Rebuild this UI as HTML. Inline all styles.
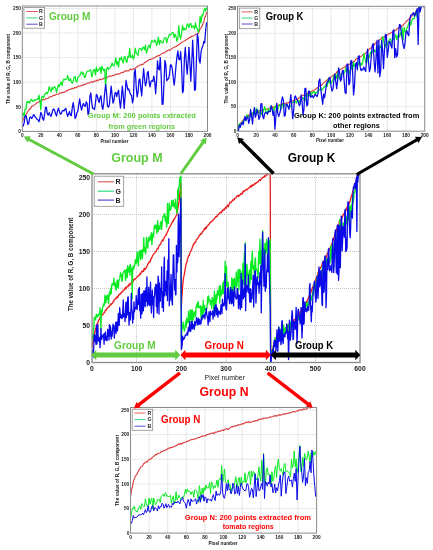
<!DOCTYPE html>
<html><head><meta charset="utf-8"><style>
html,body{margin:0;padding:0;background:#fff;}
svg{display:block;}
.t{font-family:'Liberation Sans', Arial, sans-serif;fill:#1a1a1a;font-weight:bold;}
.b{font-family:'Liberation Sans', Arial, sans-serif;}
.grid{stroke:#e2e2e2;stroke-width:0.8;}
.gridd{stroke:#c4c4c4;stroke-width:1;stroke-dasharray:1 1;}
</style></head><body>
<svg width="433" height="550" viewBox="0 0 433 550">
<rect width="433" height="550" fill="#fff"/>
<clipPath id="clipTL"><rect x="22.3" y="6.0" width="185.2" height="125.4"/></clipPath>
<rect x="22.3" y="6.0" width="185.2" height="125.4" fill="#fff"/>
<line x1="40.82" y1="6.0" x2="40.82" y2="131.4" class="grid"/>
<line x1="59.34" y1="6.0" x2="59.34" y2="131.4" class="grid"/>
<line x1="77.86" y1="6.0" x2="77.86" y2="131.4" class="grid"/>
<line x1="96.38" y1="6.0" x2="96.38" y2="131.4" class="grid"/>
<line x1="114.90" y1="6.0" x2="114.90" y2="131.4" class="grid"/>
<line x1="133.42" y1="6.0" x2="133.42" y2="131.4" class="grid"/>
<line x1="151.94" y1="6.0" x2="151.94" y2="131.4" class="grid"/>
<line x1="170.46" y1="6.0" x2="170.46" y2="131.4" class="grid"/>
<line x1="188.98" y1="6.0" x2="188.98" y2="131.4" class="grid"/>
<line x1="22.3" y1="106.81" x2="207.5" y2="106.81" class="grid"/>
<line x1="22.3" y1="82.22" x2="207.5" y2="82.22" class="grid"/>
<line x1="22.3" y1="57.64" x2="207.5" y2="57.64" class="grid"/>
<line x1="22.3" y1="33.05" x2="207.5" y2="33.05" class="grid"/>
<line x1="22.3" y1="8.46" x2="207.5" y2="8.46" class="grid"/>
<text x="22.30" y="136.9" font-size="4.8" text-anchor="middle" class="t">0</text>
<text x="40.82" y="136.9" font-size="4.8" text-anchor="middle" class="t">20</text>
<text x="59.34" y="136.9" font-size="4.8" text-anchor="middle" class="t">40</text>
<text x="77.86" y="136.9" font-size="4.8" text-anchor="middle" class="t">60</text>
<text x="96.38" y="136.9" font-size="4.8" text-anchor="middle" class="t">80</text>
<text x="114.90" y="136.9" font-size="4.8" text-anchor="middle" class="t">100</text>
<text x="133.42" y="136.9" font-size="4.8" text-anchor="middle" class="t">120</text>
<text x="151.94" y="136.9" font-size="4.8" text-anchor="middle" class="t">140</text>
<text x="170.46" y="136.9" font-size="4.8" text-anchor="middle" class="t">160</text>
<text x="188.98" y="136.9" font-size="4.8" text-anchor="middle" class="t">180</text>
<text x="207.50" y="136.9" font-size="4.8" text-anchor="middle" class="t">200</text>
<text x="21.0" y="133.13" font-size="4.8" text-anchor="end" class="t">0</text>
<text x="21.0" y="108.54" font-size="4.8" text-anchor="end" class="t">50</text>
<text x="21.0" y="83.95" font-size="4.8" text-anchor="end" class="t">100</text>
<text x="21.0" y="59.36" font-size="4.8" text-anchor="end" class="t">150</text>
<text x="21.0" y="34.78" font-size="4.8" text-anchor="end" class="t">200</text>
<text x="21.0" y="10.19" font-size="4.8" text-anchor="end" class="t">250</text>
<text x="114.4" y="142.6" font-size="4.9" text-anchor="middle" class="t" textLength="28" lengthAdjust="spacingAndGlyphs">Pixel number</text>
<text transform="translate(10.4,69.0) rotate(-90)" x="0" y="0" font-size="4.9" text-anchor="middle" class="t" textLength="70" lengthAdjust="spacingAndGlyphs">The value of R, G, B component</text>
<polyline points="22.30,121.55 23.23,119.26 24.15,117.54 25.08,116.45 26.00,114.60 26.93,112.92 27.86,111.31 28.78,110.37 29.71,108.88 30.63,108.72 31.56,106.20 32.49,106.21 33.41,105.27 34.34,104.95 35.26,104.40 36.19,103.43 37.12,102.65 38.04,102.42 38.97,101.76 39.89,100.79 40.82,100.76 41.75,100.67 42.67,99.57 43.60,99.65 44.52,99.80 45.45,99.02 46.38,98.54 47.30,98.48 48.23,98.25 49.15,97.31 50.08,96.62 51.01,96.72 51.93,96.58 52.86,95.79 53.78,95.32 54.71,95.37 55.64,94.70 56.56,94.16 57.49,94.30 58.41,94.20 59.34,93.40 60.27,93.09 61.19,92.41 62.12,93.01 63.04,92.42 63.97,92.14 64.90,92.15 65.82,91.07 66.75,90.57 67.67,90.73 68.60,89.55 69.53,89.42 70.45,89.16 71.38,88.90 72.30,88.34 73.23,88.89 74.16,87.78 75.08,87.44 76.01,88.03 76.93,86.86 77.86,86.75 78.79,86.05 79.71,86.23 80.64,85.77 81.56,85.33 82.49,85.52 83.42,84.64 84.34,84.63 85.27,84.10 86.19,84.20 87.12,83.27 88.05,83.17 88.97,83.18 89.90,82.57 90.82,82.02 91.75,81.52 92.68,82.55 93.60,81.29 94.53,81.16 95.45,81.08 96.38,81.14 97.31,79.96 98.23,80.65 99.16,79.64 100.08,79.06 101.01,79.90 101.94,79.10 102.86,79.20 103.79,78.29 104.71,77.50 105.64,77.00 106.57,78.20 107.49,77.43 108.42,76.64 109.34,76.00 110.27,76.16 111.20,76.32 112.12,75.62 113.05,75.44 113.97,75.22 114.90,75.14 115.83,74.40 116.75,74.14 117.68,74.00 118.60,73.75 119.53,73.88 120.46,73.27 121.38,72.31 122.31,72.56 123.23,72.76 124.16,71.37 125.09,71.39 126.01,70.48 126.94,70.99 127.86,70.90 128.79,70.99 129.72,69.61 130.64,68.82 131.57,69.86 132.49,69.50 133.42,68.71 134.35,68.76 135.27,68.02 136.20,67.53 137.12,66.80 138.05,65.93 138.98,65.84 139.90,64.97 140.83,64.98 141.75,64.17 142.68,64.62 143.61,63.84 144.53,62.44 145.46,62.47 146.38,61.49 147.31,60.99 148.24,60.16 149.16,59.85 150.09,59.25 151.01,59.18 151.94,58.89 152.87,58.46 153.79,57.93 154.72,57.74 155.64,57.06 156.57,56.44 157.50,55.86 158.42,55.65 159.35,55.83 160.27,54.66 161.20,54.10 162.13,53.32 163.05,53.08 163.98,53.12 164.90,52.71 165.83,51.19 166.76,51.24 167.68,50.37 168.61,49.81 169.53,50.53 170.46,49.62 171.39,49.00 172.31,48.37 173.24,47.78 174.16,47.33 175.09,46.75 176.02,46.82 176.94,45.70 177.87,45.34 178.79,44.41 179.72,44.05 180.65,43.03 181.57,42.36 182.50,41.97 183.42,41.38 184.35,40.88 185.28,40.50 186.20,39.80 187.13,39.34 188.05,38.40 188.98,37.96 189.91,37.24 190.83,37.50 191.76,36.14 192.68,36.30 193.61,35.79 194.54,35.09 195.46,34.74 196.39,33.92 197.31,33.76 198.24,33.47 199.17,31.61 200.09,28.99 201.02,27.72 201.94,26.42 202.87,24.19 203.80,21.86 204.72,17.59 205.65,15.94 206.57,12.20" fill="none" stroke="#d83a3a" stroke-width="1.1" stroke-linejoin="round" stroke-opacity="1" clip-path="url(#clipTL)"/>
<polyline points="22.30,116.70 23.23,112.97 24.15,116.45 25.08,108.91 26.00,109.06 26.93,101.42 27.86,102.64 28.78,101.49 29.71,103.02 30.63,100.36 31.56,99.26 32.49,101.28 33.41,101.18 34.34,99.72 35.26,100.47 36.19,99.96 37.12,98.68 38.04,99.32 38.97,95.02 39.89,100.56 40.82,109.76 41.75,97.08 42.67,96.36 43.60,97.92 44.52,94.30 45.45,94.05 46.38,92.40 47.30,93.76 48.23,91.62 49.15,86.61 50.08,89.76 51.01,91.81 51.93,87.30 52.86,89.62 53.78,87.20 54.71,86.64 55.64,88.76 56.56,92.31 57.49,87.62 58.41,84.72 59.34,86.68 60.27,84.03 61.19,82.12 62.12,85.72 63.04,80.50 63.97,78.98 64.90,79.96 65.82,79.26 66.75,78.97 67.67,75.37 68.60,80.49 69.53,80.52 70.45,78.42 71.38,82.06 72.30,83.36 73.23,81.07 74.16,77.17 75.08,76.43 76.01,81.47 76.93,81.97 77.86,77.19 78.79,76.55 79.71,75.87 80.64,73.58 81.56,71.73 82.49,74.21 83.42,72.85 84.34,77.31 85.27,77.25 86.19,73.01 87.12,71.51 88.05,71.04 88.97,71.11 89.90,70.28 90.82,69.90 91.75,76.85 92.68,73.68 93.60,70.01 94.53,69.31 95.45,75.02 96.38,67.07 97.31,71.45 98.23,70.63 99.16,68.95 100.08,67.35 101.01,73.40 101.94,66.19 102.86,68.59 103.79,70.82 104.71,69.15 105.64,89.11 106.57,69.78 107.49,67.14 108.42,69.51 109.34,68.17 110.27,67.41 111.20,66.35 112.12,63.00 113.05,65.58 113.97,65.78 114.90,62.93 115.83,57.89 116.75,64.55 117.68,61.52 118.60,67.24 119.53,58.05 120.46,59.60 121.38,57.10 122.31,60.72 123.23,63.14 124.16,56.83 125.09,56.69 126.01,61.04 126.94,62.34 127.86,56.01 128.79,57.36 129.72,48.39 130.64,57.65 131.57,56.86 132.49,55.06 133.42,59.27 134.35,56.37 135.27,48.07 136.20,52.97 137.12,53.89 138.05,55.39 138.98,49.14 139.90,48.36 140.83,49.05 141.75,50.51 142.68,47.81 143.61,47.03 144.53,49.79 145.46,45.19 146.38,53.19 147.31,50.07 148.24,46.45 149.16,45.29 150.09,48.07 151.01,42.83 151.94,40.21 152.87,41.79 153.79,42.17 154.72,39.93 155.64,40.94 156.57,45.53 157.50,42.22 158.42,37.13 159.35,44.54 160.27,40.39 161.20,41.50 162.13,42.81 163.05,42.85 163.98,38.95 164.90,37.93 165.83,37.62 166.76,42.96 167.68,38.90 168.61,36.52 169.53,34.24 170.46,34.80 171.39,33.78 172.31,32.42 173.24,32.82 174.16,37.68 175.09,34.33 176.02,36.37 176.94,41.36 177.87,38.58 178.79,25.67 179.72,35.75 180.65,38.98 181.57,33.02 182.50,25.55 183.42,30.25 184.35,28.25 185.28,30.01 186.20,28.90 187.13,23.90 188.05,24.98 188.98,27.43 189.91,24.11 190.83,23.44 191.76,27.74 192.68,26.04 193.61,26.04 194.54,29.11 195.46,22.91 196.39,27.32 197.31,28.81 198.24,32.35 199.17,28.38 200.09,16.29 201.02,22.80 201.94,14.86 202.87,15.62 203.80,10.64 204.72,8.36 205.65,11.13 206.57,7.50" fill="none" stroke="#08ea22" stroke-width="1.2" stroke-linejoin="round" stroke-opacity="1" clip-path="url(#clipTL)"/>
<polyline points="22.30,125.71 23.23,126.01 24.15,122.84 25.08,115.97 26.00,115.49 26.93,119.73 27.86,124.40 28.78,123.31 29.71,117.58 30.63,116.95 31.56,118.42 32.49,117.64 33.41,114.76 34.34,115.11 35.26,117.29 36.19,118.17 37.12,119.33 38.04,119.93 38.97,121.81 39.89,117.84 40.82,112.50 41.75,114.20 42.67,118.79 43.60,120.29 44.52,114.89 45.45,107.29 46.38,107.36 47.30,113.65 48.23,115.12 49.15,112.63 50.08,114.84 51.01,116.43 51.93,113.54 52.86,109.64 53.78,108.85 54.71,110.67 55.64,114.04 56.56,115.99 57.49,111.17 58.41,108.11 59.34,111.37 60.27,114.12 61.19,113.74 62.12,111.29 63.04,110.32 63.97,111.07 64.90,109.38 65.82,108.34 66.75,112.97 67.67,116.41 68.60,113.76 69.53,111.59 70.45,115.26 71.38,115.54 72.30,107.59 73.23,102.50 74.16,109.00 75.08,118.56 76.01,116.77 76.93,112.71 77.86,111.11 78.79,104.28 79.71,99.00 80.64,105.82 81.56,110.23 82.49,105.40 83.42,103.46 84.34,105.84 85.27,106.33 86.19,101.82 87.12,103.65 88.05,114.60 88.97,111.97 89.90,96.23 90.82,92.87 91.75,102.79 92.68,108.35 93.60,108.40 94.53,109.47 95.45,102.83 96.38,94.30 97.31,95.84 98.23,100.06 99.16,102.66 100.08,97.44 101.01,95.80 101.94,106.37 102.86,109.33 103.79,102.92 104.71,92.70 105.64,84.50 106.57,92.70 107.49,106.06 108.42,107.13 109.34,105.07 110.27,95.25 111.20,86.22 112.12,95.39 113.05,103.14 113.97,100.14 114.90,93.13 115.83,92.36 116.75,96.65 117.68,92.57 118.60,90.21 119.53,100.49 120.46,108.04 121.38,98.39 122.31,86.04 123.23,95.04 124.16,108.35 125.09,96.24 126.01,80.39 126.94,85.28 127.86,89.75 128.79,89.02 129.72,92.28 130.64,94.75 131.57,95.28 132.49,102.92 133.42,98.66 134.35,72.56 135.27,69.51 136.20,86.74 137.12,96.82 138.05,92.31 138.98,79.97 139.90,78.92 140.83,88.80 141.75,95.81 142.68,80.85 143.61,68.59 144.53,78.73 145.46,85.86 146.38,82.39 147.31,73.00 148.24,71.44 149.16,82.45 150.09,86.97 151.01,81.30 151.94,80.65 152.87,81.39 153.79,76.08 154.72,81.67 155.64,93.79 156.57,81.00 157.50,60.85 158.42,68.77 159.35,69.93 160.27,57.51 161.20,76.36 162.13,104.35 163.05,104.25 163.98,83.90 164.90,60.44 165.83,64.27 166.76,80.83 167.68,79.09 168.61,78.82 169.53,74.22 170.46,64.95 171.39,65.02 172.31,68.90 173.24,77.79 174.16,85.17 175.09,77.22 176.02,65.65 176.94,56.60 177.87,50.92 178.79,59.46 179.72,59.66 180.65,51.72 181.57,65.28 182.50,92.77 183.42,90.80 184.35,59.13 185.28,47.43 186.20,61.72 187.13,74.10 188.05,62.37 188.98,47.32 189.91,63.44 190.83,81.32 191.76,61.97 192.68,40.15 193.61,60.30 194.54,90.33 195.46,89.69 196.39,60.82 197.31,33.86 198.24,38.74 199.17,59.76 200.09,63.12 201.02,51.98 201.94,48.02 202.87,46.05 203.80,41.43 204.72,42.88 205.65,30.59 206.57,22.23" fill="none" stroke="#0a0ae8" stroke-width="1.25" stroke-linejoin="round" stroke-opacity="1" clip-path="url(#clipTL)"/>
<rect x="22.3" y="6.0" width="185.2" height="125.4" fill="none" stroke="#8a8a8a" stroke-width="1.0"/>
<rect x="23.9" y="7.5" width="20.7" height="20.7" fill="#fff" stroke="#8a8a8a" stroke-width="0.8"/>
<line x1="26.3" y1="11.5" x2="37.8" y2="11.5" stroke="#e06060" stroke-width="1.0"/>
<text x="39.0" y="13.37" font-size="5.2" class="t">R</text>
<line x1="26.3" y1="17.9" x2="37.8" y2="17.9" stroke="#30dd80" stroke-width="1.0"/>
<text x="39.0" y="19.77" font-size="5.2" class="t">G</text>
<line x1="26.3" y1="24.2" x2="37.8" y2="24.2" stroke="#5050d0" stroke-width="1.0"/>
<text x="39.0" y="26.07" font-size="5.2" class="t">B</text>
<clipPath id="clipTR"><rect x="237.5" y="6.3" width="187.2" height="124.89999999999999"/></clipPath>
<rect x="237.5" y="6.3" width="187.2" height="124.89999999999999" fill="#fff"/>
<line x1="256.22" y1="6.3" x2="256.22" y2="131.2" class="grid"/>
<line x1="274.94" y1="6.3" x2="274.94" y2="131.2" class="grid"/>
<line x1="293.66" y1="6.3" x2="293.66" y2="131.2" class="grid"/>
<line x1="312.38" y1="6.3" x2="312.38" y2="131.2" class="grid"/>
<line x1="331.10" y1="6.3" x2="331.10" y2="131.2" class="grid"/>
<line x1="349.82" y1="6.3" x2="349.82" y2="131.2" class="grid"/>
<line x1="368.54" y1="6.3" x2="368.54" y2="131.2" class="grid"/>
<line x1="387.26" y1="6.3" x2="387.26" y2="131.2" class="grid"/>
<line x1="405.98" y1="6.3" x2="405.98" y2="131.2" class="grid"/>
<line x1="237.5" y1="106.71" x2="424.7" y2="106.71" class="grid"/>
<line x1="237.5" y1="82.22" x2="424.7" y2="82.22" class="grid"/>
<line x1="237.5" y1="57.73" x2="424.7" y2="57.73" class="grid"/>
<line x1="237.5" y1="33.24" x2="424.7" y2="33.24" class="grid"/>
<line x1="237.5" y1="8.75" x2="424.7" y2="8.75" class="grid"/>
<text x="237.50" y="136.9" font-size="4.8" text-anchor="middle" class="t">0</text>
<text x="256.22" y="136.9" font-size="4.8" text-anchor="middle" class="t">20</text>
<text x="274.94" y="136.9" font-size="4.8" text-anchor="middle" class="t">40</text>
<text x="293.66" y="136.9" font-size="4.8" text-anchor="middle" class="t">60</text>
<text x="312.38" y="136.9" font-size="4.8" text-anchor="middle" class="t">80</text>
<text x="331.10" y="136.9" font-size="4.8" text-anchor="middle" class="t">100</text>
<text x="349.82" y="136.9" font-size="4.8" text-anchor="middle" class="t">120</text>
<text x="368.54" y="136.9" font-size="4.8" text-anchor="middle" class="t">140</text>
<text x="387.26" y="136.9" font-size="4.8" text-anchor="middle" class="t">160</text>
<text x="405.98" y="136.9" font-size="4.8" text-anchor="middle" class="t">180</text>
<text x="424.70" y="136.9" font-size="4.8" text-anchor="middle" class="t">200</text>
<text x="236.3" y="132.93" font-size="4.8" text-anchor="end" class="t">0</text>
<text x="236.3" y="108.44" font-size="4.8" text-anchor="end" class="t">50</text>
<text x="236.3" y="83.95" font-size="4.8" text-anchor="end" class="t">100</text>
<text x="236.3" y="59.46" font-size="4.8" text-anchor="end" class="t">150</text>
<text x="236.3" y="34.97" font-size="4.8" text-anchor="end" class="t">200</text>
<text x="236.3" y="10.48" font-size="4.8" text-anchor="end" class="t">250</text>
<text x="330.1" y="142.4" font-size="4.9" text-anchor="middle" class="t" textLength="28" lengthAdjust="spacingAndGlyphs">Pixel number</text>
<text transform="translate(228.3,68.8) rotate(-90)" x="0" y="0" font-size="4.9" text-anchor="middle" class="t" textLength="69.5" lengthAdjust="spacingAndGlyphs">The value of R, G, B component</text>
<polyline points="237.50,127.19 238.44,125.82 239.37,124.58 240.31,124.09 241.24,122.30 242.18,121.39 243.12,120.08 244.05,119.17 244.99,117.71 245.92,117.43 246.86,115.55 247.80,115.27 248.73,115.46 249.67,114.45 250.60,114.02 251.54,114.37 252.48,112.94 253.41,112.89 254.35,112.24 255.28,111.87 256.22,111.29 257.16,110.89 258.09,110.69 259.03,111.14 259.96,110.44 260.90,110.67 261.84,110.44 262.77,109.88 263.71,109.22 264.64,109.11 265.58,109.40 266.52,109.24 267.45,109.09 268.39,108.52 269.32,108.01 270.26,108.17 271.20,107.56 272.13,107.37 273.07,106.56 274.00,107.59 274.94,107.30 275.88,106.20 276.81,105.53 277.75,105.60 278.68,104.93 279.62,105.21 280.56,105.00 281.49,104.54 282.43,103.69 283.36,103.50 284.30,103.81 285.24,103.21 286.17,103.29 287.11,102.78 288.04,102.98 288.98,102.32 289.92,102.21 290.85,101.56 291.79,101.41 292.72,101.10 293.66,100.35 294.60,100.15 295.53,99.63 296.47,99.42 297.40,98.63 298.34,98.70 299.28,97.59 300.21,96.88 301.15,97.02 302.08,95.74 303.02,95.14 303.96,95.27 304.89,95.49 305.83,95.10 306.76,94.04 307.70,92.79 308.64,92.77 309.57,92.21 310.51,92.11 311.44,91.82 312.38,90.89 313.32,90.98 314.25,90.13 315.19,89.37 316.12,88.82 317.06,87.89 318.00,87.54 318.93,86.39 319.87,85.73 320.80,85.80 321.74,84.83 322.68,83.97 323.61,82.70 324.55,82.10 325.48,81.37 326.42,80.68 327.36,79.77 328.29,78.91 329.23,78.76 330.16,78.43 331.10,76.77 332.04,76.33 332.97,75.44 333.91,74.74 334.84,74.33 335.78,73.70 336.72,71.95 337.65,71.11 338.59,70.39 339.52,69.89 340.46,69.30 341.40,69.00 342.33,68.25 343.27,67.86 344.20,67.35 345.14,66.49 346.08,65.34 347.01,66.18 347.95,64.63 348.88,64.04 349.82,64.21 350.76,63.05 351.69,62.56 352.63,62.22 353.56,61.66 354.50,61.45 355.44,59.66 356.37,58.85 357.31,58.58 358.24,58.58 359.18,57.62 360.12,56.85 361.05,56.58 361.99,55.63 362.92,54.58 363.86,54.22 364.80,54.01 365.73,53.08 366.67,51.75 367.60,51.11 368.54,50.23 369.48,48.71 370.41,48.34 371.35,47.78 372.28,46.65 373.22,44.91 374.16,45.33 375.09,43.31 376.03,42.61 376.96,42.40 377.90,41.63 378.84,40.10 379.77,39.72 380.71,39.18 381.64,37.42 382.58,37.58 383.52,37.03 384.45,36.65 385.39,36.30 386.32,35.64 387.26,35.34 388.20,34.51 389.13,33.81 390.07,33.30 391.00,32.77 391.94,32.16 392.88,31.96 393.81,31.71 394.75,30.32 395.68,30.55 396.62,29.40 397.56,28.23 398.49,28.43 399.43,26.62 400.36,27.03 401.30,26.64 402.24,25.78 403.17,25.21 404.11,23.94 405.04,23.02 405.98,21.57 406.92,21.06 407.85,19.95 408.79,19.42 409.72,17.86 410.66,17.38 411.60,16.86 412.53,14.61 413.47,14.55 414.40,13.58 415.34,12.52 416.28,10.86 417.21,10.65 418.15,9.15 419.08,7.71 420.02,6.13 420.96,5.92 421.89,4.81 422.83,4.19 423.76,2.10" fill="none" stroke="#d83a3a" stroke-width="1.1" stroke-linejoin="round" stroke-opacity="1" clip-path="url(#clipTR)"/>
<polyline points="237.50,129.08 238.44,126.32 239.37,123.63 240.31,124.67 241.24,124.00 242.18,121.76 243.12,121.50 244.05,120.00 244.99,119.86 245.92,120.43 246.86,114.74 247.80,116.94 248.73,116.47 249.67,116.61 250.60,116.12 251.54,116.18 252.48,113.17 253.41,112.24 254.35,112.68 255.28,114.09 256.22,108.11 257.16,110.90 258.09,110.53 259.03,113.44 259.96,112.26 260.90,111.10 261.84,114.79 262.77,112.65 263.71,110.04 264.64,106.54 265.58,110.21 266.52,112.55 267.45,112.74 268.39,108.42 269.32,111.01 270.26,110.39 271.20,105.80 272.13,108.92 273.07,108.86 274.00,110.67 274.94,106.68 275.88,105.60 276.81,108.48 277.75,109.90 278.68,106.93 279.62,104.54 280.56,106.00 281.49,108.59 282.43,104.94 283.36,103.97 284.30,105.76 285.24,104.82 286.17,105.22 287.11,105.67 288.04,106.19 288.98,106.88 289.92,106.47 290.85,106.87 291.79,102.63 292.72,102.25 293.66,102.34 294.60,101.43 295.53,101.66 296.47,103.06 297.40,100.46 298.34,101.55 299.28,100.24 300.21,103.25 301.15,100.37 302.08,97.22 303.02,98.18 303.96,99.33 304.89,101.13 305.83,98.86 306.76,93.62 307.70,96.50 308.64,93.10 309.57,95.67 310.51,92.45 311.44,95.43 312.38,92.63 313.32,92.26 314.25,91.57 315.19,94.13 316.12,92.43 317.06,92.70 318.00,90.90 318.93,90.25 319.87,89.54 320.80,87.87 321.74,90.52 322.68,89.23 323.61,87.60 324.55,86.37 325.48,86.95 326.42,83.51 327.36,86.16 328.29,79.17 329.23,82.87 330.16,80.16 331.10,83.56 332.04,81.49 332.97,79.69 333.91,75.40 334.84,78.75 335.78,75.09 336.72,78.33 337.65,72.57 338.59,76.85 339.52,78.93 340.46,78.88 341.40,73.69 342.33,73.97 343.27,72.60 344.20,72.89 345.14,70.81 346.08,67.07 347.01,72.24 347.95,69.65 348.88,70.69 349.82,74.09 350.76,69.57 351.69,64.94 352.63,70.16 353.56,62.24 354.50,66.24 355.44,64.76 356.37,62.84 357.31,64.86 358.24,64.86 359.18,60.83 360.12,65.13 361.05,63.52 361.99,65.20 362.92,61.04 363.86,53.50 364.80,57.94 365.73,62.35 366.67,63.17 367.60,56.80 368.54,55.63 369.48,57.41 370.41,52.15 371.35,53.90 372.28,52.02 373.22,50.16 374.16,49.71 375.09,51.64 376.03,51.61 376.96,46.11 377.90,49.22 378.84,50.49 379.77,46.02 380.71,47.65 381.64,43.84 382.58,36.56 383.52,39.61 384.45,45.10 385.39,46.82 386.32,42.95 387.26,45.18 388.20,41.20 389.13,40.35 390.07,38.88 391.00,40.12 391.94,43.23 392.88,39.71 393.81,38.91 394.75,37.09 395.68,34.68 396.62,39.64 397.56,36.08 398.49,37.51 399.43,36.40 400.36,32.77 401.30,35.87 402.24,27.97 403.17,39.72 404.11,27.35 405.04,31.28 405.98,32.64 406.92,27.81 407.85,26.45 408.79,23.14 409.72,20.40 410.66,25.24 411.60,22.15 412.53,18.54 413.47,18.51 414.40,18.68 415.34,12.36 416.28,13.41 417.21,17.56 418.15,11.10 419.08,10.87 420.02,9.08 420.96,5.26 421.89,4.37 422.83,4.47 423.76,1.65" fill="none" stroke="#08ea22" stroke-width="1.2" stroke-linejoin="round" stroke-opacity="1" clip-path="url(#clipTR)"/>
<polyline points="237.50,135.88 238.44,130.95 239.37,125.10 240.31,127.27 241.24,123.65 242.18,122.38 243.12,124.84 244.05,120.11 244.99,116.45 245.92,120.63 246.86,117.84 247.80,116.67 248.73,123.41 249.67,119.38 250.60,109.48 251.54,115.76 252.48,123.82 253.41,114.18 254.35,107.65 255.28,117.27 256.22,114.21 257.16,109.31 258.09,114.23 259.03,119.41 259.96,116.52 260.90,103.81 261.84,103.58 262.77,116.80 263.71,118.68 264.64,113.53 265.58,112.26 266.52,112.95 267.45,114.22 268.39,111.31 269.32,111.56 270.26,111.58 271.20,105.70 272.13,108.82 273.07,115.47 274.00,111.00 274.94,129.24 275.88,116.51 276.81,103.13 277.75,113.42 278.68,116.44 279.62,113.50 280.56,110.05 281.49,101.58 282.43,96.83 283.36,99.99 284.30,116.14 285.24,115.57 286.17,104.14 287.11,104.13 288.04,106.70 288.98,109.31 289.92,102.35 290.85,94.70 291.79,105.93 292.72,118.60 293.66,110.62 294.60,97.17 295.53,95.95 296.47,99.06 297.40,100.10 298.34,102.10 299.28,105.70 300.21,104.12 301.15,94.76 302.08,101.22 303.02,114.97 303.96,109.16 304.89,88.63 305.83,88.24 306.76,105.88 307.70,104.80 308.64,91.35 309.57,91.07 310.51,97.25 311.44,96.69 312.38,95.56 313.32,97.76 314.25,96.20 315.19,94.12 316.12,95.48 317.06,96.68 318.00,93.45 318.93,81.10 319.87,78.88 320.80,89.46 321.74,96.87 322.68,104.26 323.61,94.09 324.55,97.75 325.48,91.65 326.42,84.71 327.36,81.55 328.29,81.19 329.23,77.34 330.16,78.37 331.10,86.97 332.04,91.14 332.97,89.08 333.91,80.24 334.84,73.96 335.78,81.63 336.72,88.70 337.65,80.18 338.59,67.94 339.52,71.70 340.46,81.18 341.40,79.15 342.33,70.64 343.27,70.36 344.20,81.28 345.14,92.85 346.08,93.49 347.01,64.22 347.95,64.38 348.88,84.85 349.82,82.80 350.76,61.09 351.69,60.60 352.63,72.59 353.56,94.92 354.50,86.16 355.44,65.06 356.37,62.66 357.31,69.77 358.24,56.62 359.18,55.66 360.12,66.63 361.05,70.53 361.99,69.14 362.92,69.86 363.86,66.98 364.80,69.40 365.73,71.50 366.67,56.66 367.60,49.15 368.54,62.29 369.48,71.65 370.41,67.62 371.35,55.54 372.28,45.40 373.22,43.49 374.16,62.19 375.09,71.97 376.03,57.89 376.96,40.44 377.90,72.91 378.84,40.11 379.77,76.78 380.71,70.39 381.64,40.61 382.58,49.64 383.52,68.51 384.45,50.49 385.39,34.34 386.32,34.83 387.26,57.27 388.20,51.00 389.13,41.31 390.07,41.99 391.00,45.77 391.94,48.18 392.88,31.15 393.81,29.75 394.75,57.73 395.68,48.63 396.62,56.97 397.56,54.85 398.49,34.45 399.43,24.66 400.36,25.16 401.30,32.56 402.24,38.62 403.17,45.20 404.11,48.61 405.04,42.66 405.98,32.07 406.92,30.86 407.85,34.10 408.79,35.69 409.72,20.53 410.66,15.42 411.60,14.90 412.53,13.99 413.47,12.59 414.40,16.09 415.34,14.55 416.28,11.27 417.21,8.69 418.15,44.50 419.08,5.75 420.02,11.84 420.96,8.04 421.89,5.08 422.83,2.23 423.76,7.40" fill="none" stroke="#0a0ae8" stroke-width="1.25" stroke-linejoin="round" stroke-opacity="1" clip-path="url(#clipTR)"/>
<rect x="237.5" y="6.3" width="187.2" height="124.89999999999999" fill="none" stroke="#8a8a8a" stroke-width="1.0"/>
<rect x="239.3" y="8.1" width="20.5" height="20.6" fill="#fff" stroke="#8a8a8a" stroke-width="0.8"/>
<line x1="241.6" y1="11.9" x2="252.6" y2="11.9" stroke="#e06060" stroke-width="1.0"/>
<text x="254.2" y="13.77" font-size="5.2" class="t">R</text>
<line x1="241.6" y1="18.0" x2="252.6" y2="18.0" stroke="#30dd80" stroke-width="1.0"/>
<text x="254.2" y="19.87" font-size="5.2" class="t">G</text>
<line x1="241.6" y1="24.0" x2="252.6" y2="24.0" stroke="#5050d0" stroke-width="1.0"/>
<text x="254.2" y="25.87" font-size="5.2" class="t">B</text>
<clipPath id="clipMA"><rect x="92.0" y="173.8" width="268.0" height="188.7"/></clipPath>
<rect x="92.0" y="173.8" width="268.0" height="188.7" fill="#fff"/>
<line x1="136.50" y1="173.8" x2="136.50" y2="362.5" class="gridd"/>
<line x1="181.50" y1="173.8" x2="181.50" y2="362.5" class="gridd"/>
<line x1="226.50" y1="173.8" x2="226.50" y2="362.5" class="gridd"/>
<line x1="270.50" y1="173.8" x2="270.50" y2="362.5" class="gridd"/>
<line x1="315.50" y1="173.8" x2="315.50" y2="362.5" class="gridd"/>
<line x1="92.0" y1="325.50" x2="360.0" y2="325.50" class="gridd"/>
<line x1="92.0" y1="288.50" x2="360.0" y2="288.50" class="gridd"/>
<line x1="92.0" y1="251.50" x2="360.0" y2="251.50" class="gridd"/>
<line x1="92.0" y1="214.50" x2="360.0" y2="214.50" class="gridd"/>
<line x1="92.0" y1="177.50" x2="360.0" y2="177.50" class="gridd"/>
<text x="92.00" y="370.8" font-size="6.8" text-anchor="middle" class="t">0</text>
<text x="136.67" y="370.8" font-size="6.8" text-anchor="middle" class="t">100</text>
<text x="181.33" y="370.8" font-size="6.8" text-anchor="middle" class="t">200</text>
<text x="226.00" y="370.8" font-size="6.8" text-anchor="middle" class="t">300</text>
<text x="270.67" y="370.8" font-size="6.8" text-anchor="middle" class="t">400</text>
<text x="315.33" y="370.8" font-size="6.8" text-anchor="middle" class="t">500</text>
<text x="360.00" y="370.8" font-size="6.8" text-anchor="middle" class="t">600</text>
<text x="90.0" y="364.95" font-size="6.8" text-anchor="end" class="t">0</text>
<text x="90.0" y="327.95" font-size="6.8" text-anchor="end" class="t">50</text>
<text x="90.0" y="290.95" font-size="6.8" text-anchor="end" class="t">100</text>
<text x="90.0" y="253.95" font-size="6.8" text-anchor="end" class="t">150</text>
<text x="90.0" y="216.95" font-size="6.8" text-anchor="end" class="t">200</text>
<text x="90.0" y="179.95" font-size="6.8" text-anchor="end" class="t">250</text>
<text x="224.8" y="380.0" font-size="6.4" text-anchor="middle" class="t" style="font-weight:normal" textLength="40.4" lengthAdjust="spacingAndGlyphs">Pixel number</text>
<text transform="translate(73.4,264.4) rotate(-90)" x="0" y="0" font-size="6.4" text-anchor="middle" class="t" textLength="93.4" lengthAdjust="spacingAndGlyphs">The value of R, G, B component</text>
<polyline points="92.00,347.68 92.45,344.23 92.89,341.65 93.34,340.01 93.79,337.22 94.23,334.69 94.68,332.27 95.13,330.86 95.57,328.61 96.02,328.37 96.47,324.57 96.91,324.60 97.36,323.17 97.81,322.69 98.25,321.88 98.70,320.42 99.15,319.24 99.59,318.89 100.04,317.89 100.49,316.44 100.93,316.40 101.38,316.26 101.83,314.61 102.27,314.72 102.72,314.94 103.17,313.77 103.61,313.05 104.06,312.96 104.51,312.62 104.95,311.20 105.40,310.17 105.85,310.32 106.29,310.10 106.74,308.92 107.19,308.20 107.63,308.29 108.08,307.27 108.53,306.46 108.97,306.68 109.42,306.52 109.87,305.31 110.31,304.86 110.76,303.83 111.21,304.73 111.65,303.84 112.10,303.43 112.55,303.44 112.99,301.82 113.44,301.06 113.89,301.30 114.33,299.52 114.78,299.34 115.23,298.93 115.67,298.55 116.12,297.70 116.57,298.54 117.01,296.87 117.46,296.36 117.91,297.24 118.35,295.47 118.80,295.31 119.25,294.25 119.69,294.53 120.14,293.84 120.59,293.18 121.03,293.46 121.48,292.14 121.93,292.11 122.37,291.32 122.82,291.47 123.27,290.08 123.71,289.92 124.16,289.94 124.61,289.01 125.05,288.20 125.50,287.44 125.95,288.99 126.39,287.09 126.84,286.89 127.29,286.78 127.73,286.88 128.18,285.09 128.63,286.14 129.07,284.61 129.52,283.73 129.97,285.01 130.41,283.80 130.86,283.95 131.31,282.58 131.75,281.39 132.20,280.64 132.65,282.45 133.09,281.29 133.54,280.09 133.99,279.13 134.43,279.37 134.88,279.62 135.33,278.56 135.77,278.30 136.22,277.96 136.67,277.83 137.11,276.73 137.56,276.33 138.01,276.12 138.45,275.76 138.90,275.94 139.35,275.02 139.79,273.58 140.24,273.96 140.69,274.26 141.13,272.17 141.58,272.20 142.03,270.82 142.47,271.59 142.92,271.46 143.37,271.60 143.81,269.51 144.26,268.33 144.71,269.89 145.15,269.35 145.60,268.17 146.05,268.23 146.49,267.13 146.94,266.40 147.39,265.30 147.83,263.99 148.28,263.84 148.73,262.54 149.17,262.55 149.62,261.33 150.07,262.02 150.51,260.83 150.96,258.72 151.41,258.77 151.85,257.30 152.30,256.54 152.75,255.31 153.19,254.83 153.64,253.93 154.09,253.82 154.53,253.39 154.98,252.75 155.43,251.94 155.87,251.65 156.32,250.64 156.77,249.70 157.21,248.84 157.66,248.52 158.11,248.79 158.55,247.03 159.00,246.19 159.45,245.01 159.89,244.65 160.34,244.70 160.79,244.08 161.23,241.80 161.68,241.88 162.13,240.57 162.57,239.73 163.02,240.81 163.47,239.43 163.91,238.50 164.36,237.55 164.81,236.68 165.25,235.99 165.70,235.12 166.15,235.22 166.59,233.54 167.04,233.00 167.49,231.59 167.93,231.06 168.38,229.53 168.83,228.52 169.27,227.93 169.72,227.04 170.17,226.28 170.61,225.72 171.06,224.66 171.51,223.97 171.95,222.56 172.40,221.89 172.85,220.82 173.29,221.21 173.74,219.15 174.19,219.39 174.63,218.63 175.08,217.58 175.53,217.05 175.97,215.81 176.42,215.58 176.87,215.13 177.31,212.34 177.76,208.40 178.21,206.48 178.65,204.54 179.10,201.18 179.55,197.66 179.99,191.24 180.44,188.76 180.89,183.14 181.33,308.27 181.78,297.97 182.23,293.01 182.67,285.15 183.12,281.46 183.57,277.94 184.01,275.70 184.46,273.62 184.91,270.87 185.35,267.91 185.80,265.72 186.25,263.35 186.69,262.64 187.14,261.44 187.59,258.46 188.03,257.68 188.48,255.84 188.93,255.29 189.37,255.48 189.82,252.99 190.27,252.25 190.71,251.37 191.16,250.93 191.61,249.38 192.05,248.42 192.50,246.74 192.95,246.14 193.39,244.22 193.84,244.56 194.29,243.14 194.73,242.45 195.18,242.58 195.63,242.09 196.07,240.11 196.52,239.72 196.97,239.45 197.41,238.44 197.86,238.39 198.31,237.18 198.75,237.00 199.20,235.85 199.65,234.82 200.09,235.05 200.54,233.79 200.99,234.35 201.43,233.36 201.88,233.44 202.33,232.13 202.77,231.47 203.22,231.08 203.67,230.57 204.11,229.06 204.56,228.46 205.01,229.46 205.45,227.49 205.90,228.66 206.35,227.51 206.79,226.63 207.24,225.90 207.69,226.04 208.13,225.29 208.58,224.37 209.03,224.38 209.47,223.91 209.92,222.69 210.37,222.09 210.81,222.23 211.26,221.74 211.71,221.32 212.15,221.13 212.60,220.72 213.05,220.59 213.49,219.15 213.94,219.14 214.39,218.73 214.83,218.08 215.28,217.44 215.73,216.47 216.17,217.03 216.62,216.66 217.07,215.86 217.51,216.05 217.96,214.37 218.41,214.15 218.85,213.86 219.30,213.91 219.75,212.97 220.19,212.36 220.64,212.26 221.09,212.29 221.53,212.69 221.98,210.71 222.43,211.05 222.87,210.91 223.32,209.45 223.77,209.35 224.21,209.97 224.66,208.76 225.11,208.43 225.55,207.25 226.00,208.50 226.45,207.15 226.89,206.55 227.34,205.17 227.79,206.19 228.23,206.83 228.68,205.45 229.13,204.02 229.57,203.24 230.02,202.23 230.47,202.56 230.91,202.82 231.36,201.36 231.81,201.43 232.25,201.09 232.70,200.50 233.15,199.30 233.59,200.13 234.04,199.74 234.49,198.72 234.93,198.26 235.38,198.36 235.83,198.06 236.27,196.97 236.72,196.06 237.17,196.09 237.61,195.77 238.06,195.09 238.51,196.67 238.95,196.04 239.40,195.22 239.85,195.17 240.29,194.71 240.74,193.74 241.19,194.20 241.63,193.36 242.08,193.96 242.53,192.99 242.97,191.28 243.42,192.05 243.87,191.20 244.31,190.63 244.76,191.00 245.21,190.02 245.65,189.90 246.10,189.27 246.55,189.72 246.99,189.90 247.44,189.35 247.89,188.78 248.33,187.84 248.78,187.98 249.23,187.80 249.67,187.37 250.12,186.32 250.57,187.02 251.01,185.49 251.46,186.81 251.91,186.14 252.35,184.99 252.80,184.89 253.25,185.41 253.69,184.67 254.14,184.73 254.59,183.51 255.03,183.40 255.48,183.84 255.93,182.89 256.37,183.05 256.82,182.57 257.27,182.20 257.71,182.27 258.16,181.32 258.61,180.93 259.05,180.58 259.50,179.81 259.95,180.25 260.39,180.60 260.84,179.64 261.29,178.86 261.73,178.60 262.18,177.90 262.63,177.39 263.07,177.57 263.52,177.20 263.97,177.34 264.41,175.78 264.86,176.18 265.31,176.29 265.75,175.94 266.20,175.16 266.65,173.62 267.09,173.71 267.54,174.80 267.99,173.50 268.43,172.90 268.88,172.32 269.33,172.12 269.77,172.33 270.22,171.34 270.67,356.44 271.11,354.38 271.56,352.50 272.01,351.76 272.45,349.06 272.90,347.69 273.35,345.70 273.79,344.33 274.24,342.12 274.69,341.69 275.13,338.86 275.58,338.43 276.03,338.72 276.47,337.20 276.92,336.55 277.37,337.07 277.81,334.91 278.26,334.83 278.71,333.86 279.15,333.29 279.60,332.41 280.05,331.82 280.49,331.51 280.94,332.20 281.39,331.14 281.83,331.48 282.28,331.14 282.73,330.29 283.17,329.29 283.62,329.12 284.07,329.56 284.51,329.32 284.96,329.10 285.41,328.23 285.85,327.46 286.30,327.71 286.75,326.79 287.19,326.50 287.64,325.28 288.09,326.84 288.53,326.39 288.98,324.73 289.43,323.72 289.87,323.82 290.32,322.81 290.77,323.23 291.21,322.92 291.66,322.22 292.11,320.93 292.55,320.65 293.00,321.11 293.45,320.21 293.89,320.33 294.34,319.57 294.79,319.87 295.23,318.87 295.68,318.70 296.13,317.72 296.57,317.50 297.02,317.02 297.47,315.90 297.91,315.59 298.36,314.80 298.81,314.48 299.25,313.30 299.70,313.40 300.15,311.72 300.59,310.65 301.04,310.86 301.49,308.93 301.93,308.02 302.38,308.22 302.83,308.54 303.27,307.96 303.72,306.36 304.17,304.47 304.61,304.44 305.06,303.59 305.51,303.45 305.95,303.00 306.40,301.60 306.85,301.74 307.29,300.46 307.74,299.30 308.19,298.47 308.63,297.07 309.08,296.53 309.53,294.81 309.97,293.81 310.42,293.92 310.87,292.45 311.31,291.15 311.76,289.22 312.21,288.32 312.65,287.22 313.10,286.18 313.55,284.79 313.99,283.50 314.44,283.28 314.89,282.78 315.33,280.26 315.78,279.60 316.23,278.26 316.67,277.21 317.12,276.58 317.57,275.63 318.01,272.98 318.46,271.72 318.91,270.63 319.35,269.88 319.80,268.98 320.25,268.53 320.69,267.39 321.14,266.81 321.59,266.04 322.03,264.74 322.48,263.00 322.93,264.26 323.37,261.93 323.82,261.03 324.27,261.29 324.71,259.53 325.16,258.80 325.61,258.28 326.05,257.44 326.50,257.12 326.95,254.42 327.39,253.19 327.84,252.78 328.29,252.78 328.73,251.33 329.18,250.17 329.63,249.76 330.07,248.32 330.52,246.74 330.97,246.20 331.41,245.88 331.86,244.48 332.31,242.47 332.75,241.50 333.20,240.17 333.65,237.87 334.09,237.31 334.54,236.47 334.99,234.77 335.43,232.13 335.88,232.76 336.33,229.72 336.77,228.66 337.22,228.34 337.67,227.17 338.11,224.87 338.56,224.29 339.01,223.48 339.45,220.82 339.90,221.06 340.35,220.22 340.79,219.66 341.24,219.12 341.69,218.13 342.13,217.68 342.58,216.42 343.03,215.36 343.47,214.60 343.92,213.79 344.37,212.87 344.81,212.57 345.26,212.19 345.71,210.08 346.15,210.44 346.60,208.71 347.05,206.93 347.49,207.23 347.94,204.50 348.39,205.11 348.83,204.53 349.28,203.23 349.73,202.37 350.17,200.46 350.62,199.05 351.07,196.87 351.51,196.10 351.96,194.42 352.41,193.63 352.85,191.27 353.30,190.54 353.75,189.75 354.19,186.35 354.64,186.27 355.09,184.81 355.53,183.20 355.98,180.69 356.43,180.38 356.87,178.11 357.32,175.93 357.77,173.54 358.21,173.23 358.66,171.55 359.11,170.61 359.55,167.45" fill="none" stroke="#e81c1c" stroke-width="1.3" stroke-linejoin="round" stroke-opacity="1" clip-path="url(#clipMA)"/>
<polyline points="92.00,340.38 92.45,334.76 92.89,340.00 93.34,328.65 93.79,328.88 94.23,317.39 94.68,319.22 95.13,317.50 95.57,319.80 96.02,315.79 96.47,314.14 96.91,317.18 97.36,317.02 97.81,314.84 98.25,315.96 98.70,315.19 99.15,313.26 99.59,314.23 100.04,307.76 100.49,316.09 100.93,329.94 101.38,310.86 101.83,309.78 102.27,312.12 102.72,306.67 103.17,306.30 103.61,303.81 104.06,305.86 104.51,302.64 104.95,295.10 105.40,299.85 105.85,302.93 106.29,296.14 106.74,299.63 107.19,295.99 107.63,295.14 108.08,298.34 108.53,303.68 108.97,296.62 109.42,292.26 109.87,295.20 110.31,291.22 110.76,288.34 111.21,293.76 111.65,285.91 112.10,283.62 112.55,285.10 112.99,284.04 113.44,283.61 113.89,278.19 114.33,285.89 114.78,285.94 115.23,282.78 115.67,288.26 116.12,290.21 116.57,286.76 117.01,280.90 117.46,279.78 117.91,287.37 118.35,288.12 118.80,280.93 119.25,279.96 119.69,278.94 120.14,275.49 120.59,272.71 121.03,276.43 121.48,274.39 121.93,281.11 122.37,281.02 122.82,274.63 123.27,272.37 123.71,271.67 124.16,271.78 124.61,270.52 125.05,269.96 125.50,280.42 125.95,275.65 126.39,270.13 126.84,269.07 127.29,277.67 127.73,265.70 128.18,272.28 128.63,271.05 129.07,268.52 129.52,266.12 129.97,275.22 130.41,264.37 130.86,267.99 131.31,271.33 131.75,268.83 132.20,298.86 132.65,269.78 133.09,265.80 133.54,269.36 133.99,267.35 134.43,266.21 134.88,264.61 135.33,259.57 135.77,263.45 136.22,263.75 136.67,259.47 137.11,251.88 137.56,261.91 138.01,257.35 138.45,265.96 138.90,252.13 139.35,254.46 139.79,250.69 140.24,256.15 140.69,259.79 141.13,250.29 141.58,250.08 142.03,256.63 142.47,258.59 142.92,249.06 143.37,251.09 143.81,237.59 144.26,251.52 144.71,250.33 145.15,247.62 145.60,253.97 146.05,249.59 146.49,237.11 146.94,244.47 147.39,245.86 147.83,248.12 148.28,238.72 148.73,237.54 149.17,238.58 149.62,240.77 150.07,236.72 150.51,235.54 150.96,239.69 151.41,232.77 151.85,244.80 152.30,240.12 152.75,234.67 153.19,232.93 153.64,237.10 154.09,229.22 154.53,225.28 154.98,227.65 155.43,228.23 155.87,224.86 156.32,226.38 156.77,233.28 157.21,228.30 157.66,220.64 158.11,231.80 158.55,225.55 159.00,227.23 159.45,229.19 159.89,229.25 160.34,223.38 160.79,221.85 161.23,221.39 161.68,229.42 162.13,223.31 162.57,219.72 163.02,216.29 163.47,217.13 163.91,215.61 164.36,213.56 164.81,214.15 165.25,221.47 165.70,216.43 166.15,219.50 166.59,227.01 167.04,222.82 167.49,203.41 167.93,218.57 168.38,223.43 168.83,214.45 169.27,203.22 169.72,210.28 170.17,207.28 170.61,209.93 171.06,208.26 171.51,200.74 171.95,202.36 172.40,206.05 172.85,201.05 173.29,200.04 173.74,206.51 174.19,203.96 174.63,203.96 175.08,208.57 175.53,199.24 175.97,205.88 176.42,208.12 176.87,213.45 177.31,207.47 177.76,189.29 178.21,199.08 178.65,187.13 179.10,188.27 179.55,180.78 179.99,177.35 180.44,181.52 180.89,176.05 181.33,340.77 181.78,333.56 182.23,325.56 182.67,325.83 183.12,321.96 183.57,328.55 184.01,329.01 184.46,331.12 184.91,327.78 185.35,324.21 185.80,321.53 186.25,327.01 186.69,318.05 187.14,321.23 187.59,322.92 188.03,322.94 188.48,311.06 188.93,318.14 189.37,322.07 189.82,321.83 190.27,309.65 190.71,319.47 191.16,311.65 191.61,310.29 192.05,326.00 192.50,309.86 192.95,316.27 193.39,319.76 193.84,317.08 194.29,311.89 194.73,312.37 195.18,311.80 195.63,316.62 196.07,307.26 196.52,305.88 196.97,304.00 197.41,307.44 197.86,302.96 198.31,301.66 198.75,307.75 199.20,306.57 199.65,307.66 200.09,307.50 200.54,305.70 200.99,317.69 201.43,310.78 201.88,306.57 202.33,318.87 202.77,315.37 203.22,300.26 203.67,312.97 204.11,309.75 204.56,305.28 205.01,309.24 205.45,310.89 205.90,308.87 206.35,308.14 206.79,308.63 207.24,304.44 207.69,296.78 208.13,302.93 208.58,295.93 209.03,300.19 209.47,299.30 209.92,300.26 210.37,304.76 210.81,300.44 211.26,300.75 211.71,308.43 212.15,297.49 212.60,298.10 213.05,298.96 213.49,304.09 213.94,316.20 214.39,291.25 214.83,300.21 215.28,312.88 215.73,295.07 216.17,303.19 216.62,294.09 217.07,298.77 217.51,290.11 217.96,295.26 218.41,294.28 218.85,294.46 219.30,286.52 219.75,302.91 220.19,285.40 220.64,288.03 221.09,295.99 221.53,291.48 221.98,293.96 222.43,289.70 222.87,282.68 223.32,293.74 223.77,282.68 224.21,280.50 224.66,282.04 225.11,261.12 225.55,286.01 226.00,279.50 226.45,266.12 226.89,285.42 227.34,287.16 227.79,286.46 228.23,282.25 228.68,292.29 229.13,289.74 229.57,301.36 230.02,295.00 230.47,294.15 230.91,294.69 231.36,288.07 231.81,277.80 232.25,286.24 232.70,293.64 233.15,279.52 233.59,279.46 234.04,292.52 234.49,278.25 234.93,288.41 235.38,284.69 235.83,285.83 236.27,272.02 236.72,287.02 237.17,282.65 237.61,278.26 238.06,270.65 238.51,269.41 238.95,289.82 239.40,269.64 239.85,277.99 240.29,269.79 240.74,271.24 241.19,285.67 241.63,279.85 242.08,282.56 242.53,275.77 242.97,263.08 243.42,277.91 243.87,284.39 244.31,253.06 244.76,286.75 245.21,242.62 245.65,276.36 246.10,288.24 246.55,267.52 246.99,264.37 247.44,275.25 247.89,273.42 248.33,275.18 248.78,290.79 249.23,270.21 249.67,284.80 250.12,281.49 250.57,267.29 251.01,261.43 251.46,279.34 251.91,258.25 252.35,251.16 252.80,267.08 253.25,269.08 253.69,265.59 254.14,271.35 254.59,275.55 255.03,259.19 255.48,257.80 255.93,270.17 256.37,268.59 256.82,270.37 257.27,270.66 257.71,273.00 258.16,278.12 258.61,251.28 259.05,264.16 259.50,258.86 259.95,239.24 260.39,263.47 260.84,251.04 261.29,271.59 261.73,262.87 262.18,247.47 262.63,230.78 263.07,269.77 263.52,270.24 263.97,248.50 264.41,262.08 264.86,243.13 265.31,246.98 265.75,253.01 266.20,249.39 266.65,239.29 267.09,246.78 267.54,257.35 267.99,241.83 268.43,249.04 268.88,246.89 269.33,240.03 269.77,245.31 270.22,239.69 270.67,359.30 271.11,355.12 271.56,351.06 272.01,352.63 272.45,351.63 272.90,348.24 273.35,347.85 273.79,345.58 274.24,345.36 274.69,346.22 275.13,337.63 275.58,340.96 276.03,340.25 276.47,340.46 276.92,339.71 277.37,339.81 277.81,335.25 278.26,333.85 278.71,334.52 279.15,336.65 279.60,327.62 280.05,331.82 280.49,331.28 280.94,335.67 281.39,333.89 281.83,332.13 282.28,337.70 282.73,334.48 283.17,330.53 283.62,325.25 284.07,330.79 284.51,334.33 284.96,334.60 285.41,328.09 285.85,331.99 286.30,331.06 286.75,324.12 287.19,328.85 287.64,328.75 288.09,331.48 288.53,325.45 288.98,323.82 289.43,328.18 289.87,330.31 290.32,325.84 290.77,322.22 291.21,324.43 291.66,328.34 292.11,322.82 292.55,321.36 293.00,324.07 293.45,322.65 293.89,323.25 294.34,323.94 294.79,324.72 295.23,325.75 295.68,325.14 296.13,325.74 296.57,319.34 297.02,318.77 297.47,318.89 297.91,317.53 298.36,317.87 298.81,319.99 299.25,316.06 299.70,317.71 300.15,315.73 300.59,320.28 301.04,315.92 301.49,311.17 301.93,312.61 302.38,314.35 302.83,317.07 303.27,313.64 303.72,305.72 304.17,310.07 304.61,304.93 305.06,308.81 305.51,303.96 305.95,308.46 306.40,304.23 306.85,303.67 307.29,302.63 307.74,306.50 308.19,303.92 308.63,304.34 309.08,301.61 309.53,300.64 309.97,299.55 310.42,297.03 310.87,301.04 311.31,299.10 311.76,296.63 312.21,294.77 312.65,295.65 313.10,290.45 313.55,294.46 313.99,283.90 314.44,289.49 314.89,285.38 315.33,290.52 315.78,287.40 316.23,284.67 316.67,278.20 317.12,283.25 317.57,277.72 318.01,282.62 318.46,273.92 318.91,280.39 319.35,283.54 319.80,283.45 320.25,275.61 320.69,276.04 321.14,273.96 321.59,274.41 322.03,271.26 322.48,265.62 322.93,273.42 323.37,269.50 323.82,271.07 324.27,276.22 324.71,269.40 325.16,262.39 325.61,270.28 326.05,258.31 326.50,264.35 326.95,262.12 327.39,259.22 327.84,262.28 328.29,262.27 328.73,256.18 329.18,262.68 329.63,260.25 330.07,262.78 330.52,256.50 330.97,245.11 331.41,251.82 331.86,258.49 332.31,259.72 332.75,250.10 333.20,248.33 333.65,251.01 334.09,243.06 334.54,245.71 334.99,242.88 335.43,240.06 335.88,239.38 336.33,242.31 336.77,242.25 337.22,233.94 337.67,238.65 338.11,240.56 338.56,233.81 339.01,236.27 339.45,230.52 339.90,219.52 340.35,224.12 340.79,232.42 341.24,235.01 341.69,229.18 342.13,232.54 342.58,226.52 343.03,225.24 343.47,223.02 343.92,224.89 344.37,229.60 344.81,224.27 345.26,223.06 345.71,220.31 346.15,216.68 346.60,224.17 347.05,218.80 347.49,220.95 347.94,219.27 348.39,213.79 348.83,218.48 349.28,206.53 349.73,224.29 350.17,205.61 350.62,211.54 351.07,213.60 351.51,206.30 351.96,204.24 352.41,199.23 352.85,195.10 353.30,202.41 353.75,197.74 354.19,192.30 354.64,192.24 355.09,192.51 355.53,182.96 355.98,184.54 356.43,190.82 356.87,181.06 357.32,180.70 357.77,178.00 358.21,172.23 358.66,170.88 359.11,171.04 359.55,166.78" fill="none" stroke="#08ea22" stroke-width="1.3" stroke-linejoin="round" stroke-opacity="1" clip-path="url(#clipMA)"/>
<polyline points="92.00,349.02 92.45,354.30 92.89,354.31 93.34,357.17 93.79,345.33 94.23,334.72 94.68,341.39 95.13,338.47 95.57,335.33 96.02,344.37 96.47,325.48 96.91,343.98 97.36,338.23 97.81,324.21 98.25,340.45 98.70,339.13 99.15,341.62 99.59,337.43 100.04,347.65 100.49,341.59 100.93,328.67 101.38,337.35 101.83,339.39 102.27,335.97 102.72,335.51 103.17,336.90 103.61,334.09 104.06,344.24 104.51,333.59 104.95,339.83 105.40,331.96 105.85,336.74 106.29,340.62 106.74,336.56 107.19,340.29 107.63,329.45 108.08,335.78 108.53,330.03 108.97,340.02 109.42,324.68 109.87,336.17 110.31,325.86 110.76,328.94 111.21,339.06 111.65,331.97 112.10,336.26 112.55,331.00 112.99,324.05 113.44,328.74 113.89,326.01 114.33,338.10 114.78,330.73 115.23,328.79 115.67,322.34 116.12,333.24 116.57,324.46 117.01,321.78 117.46,330.94 117.91,324.56 118.35,313.45 118.80,325.23 119.25,325.26 119.69,307.65 120.14,313.44 120.59,317.59 121.03,314.55 121.48,318.06 121.93,318.64 122.37,317.78 122.82,310.17 123.27,299.94 123.71,316.85 124.16,313.65 124.61,314.37 125.05,321.51 125.50,309.38 125.95,302.33 126.39,317.55 126.84,301.90 127.29,314.91 127.73,297.74 128.18,296.78 128.63,313.03 129.07,325.01 129.52,312.43 129.97,320.18 130.41,319.47 130.86,311.21 131.31,293.39 131.75,309.63 132.20,310.44 132.65,323.00 133.09,313.13 133.54,319.19 133.99,301.84 134.43,312.04 134.88,308.01 135.33,307.62 135.77,308.82 136.22,295.55 136.67,301.01 137.11,309.39 137.56,304.69 138.01,299.53 138.45,289.03 138.90,304.42 139.35,287.48 139.79,310.77 140.24,307.53 140.69,318.16 141.13,294.39 141.58,313.93 142.03,313.78 142.47,293.29 142.92,309.03 143.37,310.83 143.81,290.96 144.26,305.33 144.71,290.83 145.15,306.94 145.60,292.95 146.05,287.77 146.49,301.46 146.94,277.00 147.39,305.96 147.83,304.01 148.28,300.65 148.73,287.05 149.17,304.16 149.62,305.43 150.07,297.23 150.51,282.27 150.96,304.68 151.41,313.08 151.85,301.25 152.30,290.10 152.75,304.64 153.19,296.84 153.64,317.49 154.09,297.61 154.53,295.94 154.98,287.39 155.43,291.86 155.87,284.08 156.32,306.53 156.77,284.90 157.21,312.97 157.66,301.22 158.11,276.16 158.55,279.85 159.00,314.09 159.45,283.26 159.89,297.57 160.34,301.13 160.79,288.43 161.23,289.30 161.68,266.98 162.13,307.47 162.57,295.34 163.02,291.63 163.47,311.36 163.91,268.22 164.36,257.22 164.81,295.95 165.25,281.08 165.70,290.93 166.15,282.27 166.59,295.22 167.04,270.98 167.49,300.68 167.93,259.99 168.38,278.57 168.83,238.65 169.27,305.70 169.72,285.41 170.17,300.44 170.61,285.23 171.06,274.48 171.51,294.75 171.95,301.26 172.40,304.96 172.85,277.01 173.29,254.84 173.74,254.98 174.19,277.06 174.63,289.86 175.08,279.71 175.53,294.94 175.97,294.60 176.42,245.31 176.87,272.03 177.31,255.74 177.76,262.60 178.21,222.00 178.65,214.16 179.10,256.74 179.55,237.81 179.99,229.30 180.44,210.80 180.89,198.22 181.33,349.26 181.78,347.66 182.23,343.70 182.67,336.16 183.12,340.18 183.57,338.69 184.01,339.13 184.46,337.97 184.91,336.79 185.35,334.78 185.80,335.37 186.25,334.82 186.69,334.75 187.14,332.38 187.59,335.11 188.03,331.08 188.48,327.34 188.93,331.67 189.37,329.22 189.82,321.50 190.27,330.17 190.71,331.37 191.16,328.04 191.61,322.09 192.05,321.12 192.50,328.94 192.95,324.05 193.39,325.12 193.84,326.27 194.29,329.41 194.73,321.37 195.18,325.89 195.63,322.50 196.07,322.69 196.52,317.60 196.97,319.05 197.41,324.88 197.86,322.13 198.31,318.27 198.75,324.29 199.20,321.38 199.65,319.37 200.09,324.08 200.54,322.72 200.99,323.70 201.43,317.86 201.88,319.89 202.33,315.39 202.77,317.34 203.22,315.71 203.67,317.23 204.11,314.51 204.56,316.62 205.01,318.81 205.45,312.24 205.90,312.48 206.35,308.39 206.79,315.07 207.24,316.03 207.69,318.26 208.13,325.08 208.58,317.52 209.03,311.92 209.47,316.14 209.92,321.66 210.37,311.08 210.81,315.01 211.26,314.14 211.71,314.30 212.15,313.15 212.60,310.79 213.05,318.99 213.49,313.20 213.94,314.21 214.39,307.56 214.83,316.21 215.28,305.10 215.73,309.21 216.17,304.69 216.62,314.63 217.07,307.86 217.51,309.25 217.96,317.20 218.41,310.99 218.85,311.36 219.30,313.31 219.75,311.86 220.19,314.69 220.64,309.35 221.09,304.74 221.53,309.92 221.98,313.55 222.43,299.21 222.87,306.23 223.32,303.52 223.77,304.41 224.21,305.60 224.66,298.58 225.11,273.70 225.55,300.73 226.00,308.89 226.45,310.12 226.89,302.57 227.34,288.28 227.79,298.90 228.23,287.63 228.68,296.97 229.13,296.84 229.57,303.63 230.02,299.83 230.47,287.34 230.91,291.30 231.36,303.85 231.81,302.72 232.25,289.66 232.70,302.99 233.15,292.35 233.59,305.90 234.04,294.24 234.49,287.22 234.93,292.37 235.38,296.83 235.83,297.52 236.27,299.20 236.72,298.59 237.17,288.59 237.61,288.57 238.06,294.63 238.51,308.67 238.95,302.31 239.40,295.14 239.85,297.16 240.29,309.51 240.74,291.42 241.19,273.32 241.63,307.61 242.08,295.28 242.53,280.23 242.97,298.80 243.42,298.25 243.87,292.23 244.31,287.86 244.76,296.86 245.21,244.10 245.65,310.65 246.10,284.83 246.55,287.15 246.99,291.93 247.44,285.91 247.89,288.84 248.33,275.20 248.78,293.08 249.23,288.25 249.67,301.80 250.12,298.62 250.57,288.85 251.01,302.34 251.46,294.36 251.91,299.05 252.35,290.36 252.80,283.98 253.25,275.16 253.69,307.06 254.14,288.15 254.59,276.54 255.03,270.95 255.48,270.80 255.93,303.08 256.37,292.91 256.82,280.85 257.27,276.74 257.71,284.50 258.16,283.52 258.61,282.63 259.05,293.31 259.50,281.24 259.95,272.34 260.39,284.88 260.84,265.60 261.29,312.82 261.73,281.33 262.18,255.49 262.63,232.26 263.07,256.12 263.52,270.94 263.97,286.30 264.41,276.83 264.86,250.16 265.31,291.33 265.75,279.09 266.20,287.69 266.65,271.51 267.09,268.94 267.54,254.86 267.99,271.93 268.43,237.66 268.88,250.39 269.33,274.73 269.77,291.28 270.22,307.71 270.67,369.57 271.11,362.12 271.56,353.29 272.01,356.56 272.45,351.09 272.90,349.17 273.35,352.89 273.79,345.74 274.24,340.22 274.69,346.53 275.13,342.31 275.58,340.54 276.03,350.73 276.47,344.65 276.92,329.69 277.37,339.18 277.81,351.35 278.26,336.79 278.71,326.92 279.15,341.46 279.60,336.84 280.05,329.43 280.49,336.87 280.94,344.68 281.39,340.32 281.83,321.12 282.28,320.78 282.73,340.74 283.17,343.59 283.62,335.80 284.07,333.88 284.51,334.93 284.96,336.84 285.41,332.45 285.85,332.82 286.30,332.85 286.75,323.97 287.19,328.68 287.64,338.73 288.09,331.98 288.53,359.54 288.98,340.30 289.43,320.10 289.87,335.64 290.32,340.20 290.77,335.76 291.21,330.55 291.66,317.75 292.11,310.57 292.55,315.34 293.00,339.75 293.45,338.89 293.89,321.62 294.34,321.60 294.79,325.49 295.23,329.43 295.68,318.91 296.13,307.36 296.57,324.32 297.02,343.47 297.47,331.41 297.91,311.08 298.36,309.24 298.81,313.95 299.25,315.52 299.70,318.53 300.15,323.97 300.59,321.58 301.04,307.44 301.49,317.21 301.93,337.98 302.38,329.20 302.83,298.18 303.27,297.60 303.72,324.24 304.17,322.61 304.61,302.30 305.06,301.87 305.51,311.20 305.95,310.36 306.40,308.66 306.85,311.98 307.29,309.62 307.74,306.48 308.19,308.54 308.63,310.34 309.08,305.47 309.53,286.81 309.97,283.45 310.42,299.43 310.87,310.64 311.31,321.80 311.76,306.43 312.21,311.97 312.65,302.75 313.10,292.26 313.55,287.49 313.99,286.94 314.44,281.13 314.89,282.68 315.33,295.68 315.78,301.98 316.23,298.86 316.67,285.51 317.12,276.02 317.57,287.61 318.01,298.28 318.46,285.42 318.91,266.93 319.35,272.60 319.80,286.93 320.25,283.86 320.69,271.00 321.14,270.59 321.59,287.08 322.03,304.56 322.48,305.52 322.93,261.30 323.37,261.54 323.82,292.47 324.27,289.38 324.71,256.57 325.16,255.84 325.61,273.95 326.05,307.69 326.50,294.45 326.95,262.58 327.39,258.96 327.84,269.70 328.29,249.82 328.73,248.37 329.18,264.95 329.63,270.84 330.07,268.75 330.52,269.82 330.97,265.48 331.41,269.12 331.86,272.30 332.31,249.89 332.75,238.54 333.20,258.39 333.65,272.54 334.09,266.44 334.54,248.19 334.99,232.88 335.43,229.99 335.88,258.24 336.33,273.01 336.77,251.74 337.22,225.38 337.67,274.44 338.11,224.88 338.56,280.28 339.01,270.63 339.45,225.64 339.90,239.28 340.35,267.78 340.79,240.57 341.24,216.16 341.69,216.91 342.13,250.81 342.58,241.34 343.03,226.69 343.47,227.72 343.92,233.42 344.37,237.08 344.81,211.34 345.26,209.23 345.71,251.50 346.15,237.75 346.60,250.36 347.05,247.14 347.49,216.33 347.94,201.54 348.39,202.29 348.83,213.47 349.28,222.63 349.73,232.57 350.17,237.73 350.62,228.73 351.07,212.73 351.51,210.91 351.96,215.80 352.41,218.21 352.85,195.30 353.30,187.58 353.75,186.79 354.19,185.42 354.64,183.31 355.09,188.59 355.53,186.26 355.98,181.32 356.43,177.42 356.87,231.52 357.32,172.97 357.77,182.17 358.21,176.42 358.66,171.95 359.11,167.65 359.55,175.46" fill="none" stroke="#0a0ae8" stroke-width="1.3" stroke-linejoin="round" stroke-opacity="1" clip-path="url(#clipMA)"/>
<rect x="92.0" y="173.8" width="268.0" height="188.7" fill="none" stroke="#8a8a8a" stroke-width="1.3"/>
<rect x="94.2" y="176.2" width="29.5" height="30.1" fill="#fff" stroke="#8a8a8a" stroke-width="0.8"/>
<line x1="97.7" y1="181.8" x2="113.9" y2="181.8" stroke="#e06060" stroke-width="1.2"/>
<text x="115.5" y="184.32" font-size="7.0" class="t">R</text>
<line x1="97.7" y1="191.2" x2="113.9" y2="191.2" stroke="#30dd80" stroke-width="1.2"/>
<text x="115.5" y="193.72" font-size="7.0" class="t">G</text>
<line x1="97.7" y1="200.1" x2="113.9" y2="200.1" stroke="#5050d0" stroke-width="1.2"/>
<text x="115.5" y="202.62" font-size="7.0" class="t">B</text>
<clipPath id="clipBO"><rect x="130.5" y="407.5" width="186.10000000000002" height="125.60000000000002"/></clipPath>
<rect x="130.5" y="407.5" width="186.10000000000002" height="125.60000000000002" fill="#fff"/>
<line x1="149.11" y1="407.5" x2="149.11" y2="533.1" class="grid"/>
<line x1="167.72" y1="407.5" x2="167.72" y2="533.1" class="grid"/>
<line x1="186.33" y1="407.5" x2="186.33" y2="533.1" class="grid"/>
<line x1="204.94" y1="407.5" x2="204.94" y2="533.1" class="grid"/>
<line x1="223.55" y1="407.5" x2="223.55" y2="533.1" class="grid"/>
<line x1="242.16" y1="407.5" x2="242.16" y2="533.1" class="grid"/>
<line x1="260.77" y1="407.5" x2="260.77" y2="533.1" class="grid"/>
<line x1="279.38" y1="407.5" x2="279.38" y2="533.1" class="grid"/>
<line x1="297.99" y1="407.5" x2="297.99" y2="533.1" class="grid"/>
<line x1="130.5" y1="508.47" x2="316.6" y2="508.47" class="grid"/>
<line x1="130.5" y1="483.85" x2="316.6" y2="483.85" class="grid"/>
<line x1="130.5" y1="459.22" x2="316.6" y2="459.22" class="grid"/>
<line x1="130.5" y1="434.59" x2="316.6" y2="434.59" class="grid"/>
<line x1="130.5" y1="409.96" x2="316.6" y2="409.96" class="grid"/>
<text x="130.50" y="539.0" font-size="4.8" text-anchor="middle" class="t">0</text>
<text x="149.11" y="539.0" font-size="4.8" text-anchor="middle" class="t">20</text>
<text x="167.72" y="539.0" font-size="4.8" text-anchor="middle" class="t">40</text>
<text x="186.33" y="539.0" font-size="4.8" text-anchor="middle" class="t">60</text>
<text x="204.94" y="539.0" font-size="4.8" text-anchor="middle" class="t">80</text>
<text x="223.55" y="539.0" font-size="4.8" text-anchor="middle" class="t">100</text>
<text x="242.16" y="539.0" font-size="4.8" text-anchor="middle" class="t">120</text>
<text x="260.77" y="539.0" font-size="4.8" text-anchor="middle" class="t">140</text>
<text x="279.38" y="539.0" font-size="4.8" text-anchor="middle" class="t">160</text>
<text x="297.99" y="539.0" font-size="4.8" text-anchor="middle" class="t">180</text>
<text x="316.60" y="539.0" font-size="4.8" text-anchor="middle" class="t">200</text>
<text x="129.3" y="534.83" font-size="4.8" text-anchor="end" class="t">0</text>
<text x="129.3" y="510.20" font-size="4.8" text-anchor="end" class="t">50</text>
<text x="129.3" y="485.57" font-size="4.8" text-anchor="end" class="t">100</text>
<text x="129.3" y="460.95" font-size="4.8" text-anchor="end" class="t">150</text>
<text x="129.3" y="436.32" font-size="4.8" text-anchor="end" class="t">200</text>
<text x="129.3" y="411.69" font-size="4.8" text-anchor="end" class="t">250</text>
<text x="223.0" y="544.5" font-size="4.9" text-anchor="middle" class="t" textLength="29" lengthAdjust="spacingAndGlyphs">Pixel number</text>
<text transform="translate(118.6,470.5) rotate(-90)" x="0" y="0" font-size="4.9" text-anchor="middle" class="t" textLength="71" lengthAdjust="spacingAndGlyphs">The value of R, G, B component</text>
<polyline points="130.50,497.00 131.43,490.15 132.36,486.85 133.29,481.61 134.22,479.16 135.15,476.82 136.08,475.33 137.01,473.94 137.94,472.11 138.87,470.14 139.81,468.68 140.74,467.11 141.67,466.63 142.60,465.83 143.53,463.85 144.46,463.33 145.39,462.11 146.32,461.74 147.25,461.87 148.18,460.21 149.11,459.72 150.04,459.13 150.97,458.84 151.90,457.81 152.83,457.16 153.76,456.05 154.69,455.65 155.62,454.37 156.55,454.60 157.48,453.66 158.42,453.19 159.35,453.28 160.28,452.95 161.21,451.64 162.14,451.38 163.07,451.20 164.00,450.52 164.93,450.49 165.86,449.68 166.79,449.56 167.72,448.80 168.65,448.12 169.58,448.27 170.51,447.43 171.44,447.80 172.37,447.14 173.30,447.20 174.23,446.33 175.16,445.89 176.09,445.63 177.03,445.29 177.96,444.28 178.89,443.88 179.82,444.55 180.75,443.24 181.68,444.01 182.61,443.25 183.54,442.66 184.47,442.18 185.40,442.27 186.33,441.77 187.26,441.16 188.19,441.17 189.12,440.85 190.05,440.04 190.98,439.64 191.91,439.74 192.84,439.41 193.77,439.13 194.70,439.01 195.63,438.73 196.57,438.64 197.50,437.68 198.43,437.68 199.36,437.40 200.29,436.97 201.22,436.55 202.15,435.90 203.08,436.27 204.01,436.03 204.94,435.50 205.87,435.62 206.80,434.50 207.73,434.35 208.66,434.16 209.59,434.20 210.52,433.57 211.45,433.17 212.38,433.10 213.31,433.12 214.25,433.39 215.18,432.07 216.11,432.29 217.04,432.20 217.97,431.23 218.90,431.16 219.83,431.57 220.76,430.77 221.69,430.55 222.62,429.77 223.55,430.60 224.48,429.70 225.41,429.30 226.34,428.38 227.27,429.06 228.20,429.49 229.13,428.57 230.06,427.61 230.99,427.09 231.92,426.43 232.86,426.65 233.79,426.81 234.72,425.84 235.65,425.89 236.58,425.66 237.51,425.27 238.44,424.47 239.37,425.02 240.30,424.77 241.23,424.09 242.16,423.78 243.09,423.85 244.02,423.65 244.95,422.92 245.88,422.32 246.81,422.34 247.74,422.12 248.67,421.67 249.60,422.72 250.53,422.30 251.47,421.76 252.40,421.72 253.33,421.42 254.26,420.77 255.19,421.08 256.12,420.52 257.05,420.92 257.98,420.27 258.91,419.13 259.84,419.65 260.77,419.08 261.70,418.70 262.63,418.95 263.56,418.30 264.49,418.21 265.42,417.80 266.35,418.09 267.28,418.21 268.21,417.85 269.14,417.47 270.08,416.84 271.01,416.94 271.94,416.82 272.87,416.54 273.80,415.83 274.73,416.30 275.66,415.28 276.59,416.16 277.52,415.71 278.45,414.95 279.38,414.88 280.31,415.23 281.24,414.73 282.17,414.77 283.10,413.96 284.03,413.89 284.96,414.18 285.89,413.55 286.82,413.65 287.75,413.34 288.69,413.09 289.62,413.14 290.55,412.50 291.48,412.24 292.41,412.01 293.34,411.50 294.27,411.79 295.20,412.02 296.13,411.39 297.06,410.87 297.99,410.69 298.92,410.23 299.85,409.89 300.78,410.01 301.71,409.76 302.64,409.86 303.57,408.82 304.50,409.08 305.43,409.16 306.36,408.92 307.30,408.40 308.23,407.38 309.16,407.44 310.09,408.17 311.02,407.30 311.95,406.90 312.88,406.51 313.81,406.38 314.74,406.52 315.67,405.86" fill="none" stroke="#d83a3a" stroke-width="1.1" stroke-linejoin="round" stroke-opacity="1" clip-path="url(#clipBO)"/>
<polyline points="130.50,518.64 131.43,513.83 132.36,508.51 133.29,508.70 134.22,506.12 135.15,510.51 136.08,510.81 137.01,512.22 137.94,509.99 138.87,507.62 139.81,505.83 140.74,509.48 141.67,503.51 142.60,505.63 143.53,506.75 144.46,506.77 145.39,498.86 146.32,503.58 147.25,506.19 148.18,506.03 149.11,497.92 150.04,504.46 150.97,499.25 151.90,498.35 152.83,508.81 153.76,498.06 154.69,502.33 155.62,504.65 156.55,502.87 157.48,499.41 158.42,499.73 159.35,499.35 160.28,502.56 161.21,496.33 162.14,495.41 163.07,494.16 164.00,496.45 164.93,493.47 165.86,492.60 166.79,496.66 167.72,495.87 168.65,496.60 169.58,496.49 170.51,495.30 171.44,503.28 172.37,498.67 173.30,495.87 174.23,504.06 175.16,501.73 176.09,491.67 177.03,500.13 177.96,497.99 178.89,495.01 179.82,497.65 180.75,498.75 181.68,497.40 182.61,496.92 183.54,497.24 184.47,494.45 185.40,489.35 186.33,493.45 187.26,488.79 188.19,491.63 189.12,491.03 190.05,491.68 190.98,494.66 191.91,491.79 192.84,492.00 193.77,497.11 194.70,489.83 195.63,490.24 196.57,490.81 197.50,494.22 198.43,502.28 199.36,485.68 200.29,491.64 201.22,500.07 202.15,488.22 203.08,493.62 204.01,487.57 204.94,490.68 205.87,484.92 206.80,488.35 207.73,487.69 208.66,487.81 209.59,482.53 210.52,493.44 211.45,481.78 212.38,483.54 213.31,488.83 214.25,485.83 215.18,487.48 216.11,484.65 217.04,479.97 217.97,487.33 218.90,479.97 219.83,478.52 220.76,479.55 221.69,465.62 222.62,482.19 223.55,477.86 224.48,468.95 225.41,481.80 226.34,482.95 227.27,482.49 228.20,479.68 229.13,486.37 230.06,484.67 230.99,492.41 231.92,488.17 232.86,487.60 233.79,487.96 234.72,483.56 235.65,476.73 236.58,482.34 237.51,487.26 238.44,477.87 239.37,477.82 240.30,486.52 241.23,477.03 242.16,483.79 243.09,481.31 244.02,482.07 244.95,472.87 245.88,482.86 246.81,479.95 247.74,477.03 248.67,471.96 249.60,471.14 250.53,484.73 251.47,471.29 252.40,476.85 253.33,471.39 254.26,472.36 255.19,481.96 256.12,478.09 257.05,479.89 257.98,475.37 258.91,466.93 259.84,476.80 260.77,481.11 261.70,460.25 262.63,482.68 263.56,453.31 264.49,475.76 265.42,483.67 266.35,469.88 267.28,467.78 268.21,475.03 269.14,473.81 270.08,474.98 271.01,485.37 271.94,471.67 272.87,481.38 273.80,479.18 274.73,469.73 275.66,465.83 276.59,477.75 277.52,463.71 278.45,458.99 279.38,469.59 280.31,470.92 281.24,468.60 282.17,472.43 283.10,475.23 284.03,464.33 284.96,463.41 285.89,471.65 286.82,470.59 287.75,471.78 288.69,471.97 289.62,473.53 290.55,476.93 291.48,459.07 292.41,467.65 293.34,464.12 294.27,451.05 295.20,467.19 296.13,458.91 297.06,472.59 297.99,466.79 298.92,456.54 299.85,445.43 300.78,471.38 301.71,471.69 302.64,457.22 303.57,466.26 304.50,453.64 305.43,456.21 306.36,460.22 307.30,457.81 308.23,451.09 309.16,456.08 310.09,463.11 311.02,452.78 311.95,457.58 312.88,456.15 313.81,451.58 314.74,455.10 315.67,451.36" fill="none" stroke="#08ea22" stroke-width="1.0" stroke-linejoin="round" stroke-opacity="1" clip-path="url(#clipBO)"/>
<polyline points="130.50,524.29 131.43,523.22 132.36,520.59 133.29,515.57 134.22,518.25 135.15,517.25 136.08,517.55 137.01,516.77 137.94,515.99 138.87,514.65 139.81,515.04 140.74,514.68 141.67,514.63 142.60,513.05 143.53,514.87 144.46,512.18 145.39,509.70 146.32,512.58 147.25,510.95 148.18,505.81 149.11,511.58 150.04,512.38 150.97,510.17 151.90,506.20 152.83,505.56 153.76,510.77 154.69,507.51 155.62,508.22 156.55,508.98 157.48,511.07 158.42,505.72 159.35,508.73 160.28,506.47 161.21,506.61 162.14,503.22 163.07,504.18 164.00,508.06 164.93,506.23 165.86,503.66 166.79,507.67 167.72,505.73 168.65,504.39 169.58,507.53 170.51,506.62 171.44,507.27 172.37,503.39 173.30,504.74 174.23,501.74 175.16,503.04 176.09,501.95 177.03,502.97 177.96,501.16 178.89,502.56 179.82,504.02 180.75,499.65 181.68,499.81 182.61,497.09 183.54,501.53 184.47,502.17 185.40,503.65 186.33,508.20 187.26,503.16 188.19,499.44 189.12,502.25 190.05,505.92 190.98,498.87 191.91,501.49 192.84,500.91 193.77,501.02 194.70,500.25 195.63,498.68 196.57,504.14 197.50,500.29 198.43,500.96 199.36,496.53 200.29,502.29 201.22,494.89 202.15,497.63 203.08,494.62 204.01,501.24 204.94,496.73 205.87,497.65 206.80,502.95 207.73,498.82 208.66,499.06 209.59,500.36 210.52,499.39 211.45,501.28 212.38,497.72 213.31,494.65 214.25,498.11 215.18,500.52 216.11,490.97 217.04,495.65 217.97,493.84 218.90,494.44 219.83,495.23 220.76,490.55 221.69,473.99 222.62,491.98 223.55,497.42 224.48,498.23 225.41,493.21 226.34,483.70 227.27,490.77 228.20,483.27 229.13,489.48 230.06,489.40 230.99,493.92 231.92,491.38 232.86,483.07 233.79,485.71 234.72,494.06 235.65,493.31 236.58,484.61 237.51,493.49 238.44,486.41 239.37,495.42 240.30,487.67 241.23,482.99 242.16,486.42 243.09,489.39 244.02,489.85 244.95,490.97 245.88,490.56 246.81,483.90 247.74,483.89 248.67,487.93 249.60,497.27 250.53,493.04 251.47,488.26 252.40,489.61 253.33,497.83 254.26,485.79 255.19,473.74 256.12,496.56 257.05,488.36 257.98,478.34 258.91,490.70 259.84,490.33 260.77,486.33 261.70,483.42 262.63,489.41 263.56,454.29 264.49,498.59 265.42,481.40 266.35,482.95 267.28,486.13 268.21,482.12 269.14,484.07 270.08,474.99 271.01,486.90 271.94,483.68 272.87,492.70 273.80,490.58 274.73,484.08 275.66,493.05 276.59,487.74 277.52,490.87 278.45,485.09 279.38,480.84 280.31,474.97 281.24,496.20 282.17,483.62 283.10,475.88 284.03,472.17 284.96,472.07 285.89,493.55 286.82,486.78 287.75,478.75 288.69,476.01 289.62,481.18 290.55,480.53 291.48,479.94 292.41,487.05 293.34,479.01 294.27,473.09 295.20,481.44 296.13,468.60 297.06,500.03 297.99,479.07 298.92,461.87 299.85,446.41 300.78,462.29 301.71,472.16 302.64,482.38 303.57,476.08 304.50,458.33 305.43,485.73 306.36,477.58 307.30,483.31 308.23,472.54 309.16,470.83 310.09,461.45 311.02,472.81 311.95,450.01 312.88,458.48 313.81,474.68 314.74,485.69 315.67,496.63" fill="none" stroke="#0a0ae8" stroke-width="1.0" stroke-linejoin="round" stroke-opacity="1" clip-path="url(#clipBO)"/>
<rect x="130.5" y="407.5" width="186.10000000000002" height="125.60000000000002" fill="none" stroke="#8a8a8a" stroke-width="1.0"/>
<rect x="132.2" y="409.2" width="20.5" height="21.1" fill="#fff" stroke="#8a8a8a" stroke-width="0.8"/>
<line x1="134.5" y1="413.0" x2="145.5" y2="413.0" stroke="#e06060" stroke-width="1.0"/>
<text x="147.5" y="414.87" font-size="5.2" class="t">R</text>
<line x1="134.5" y1="419.6" x2="145.5" y2="419.6" stroke="#30dd80" stroke-width="1.0"/>
<text x="147.5" y="421.47" font-size="5.2" class="t">G</text>
<line x1="134.5" y1="426.2" x2="145.5" y2="426.2" stroke="#5050d0" stroke-width="1.0"/>
<text x="147.5" y="428.07" font-size="5.2" class="t">B</text>
<text x="48.9" y="20.4" font-size="10.4" font-weight="bold" fill="#62cc40" textLength="41.5" lengthAdjust="spacingAndGlyphs" text-anchor="start" class="b">Group M</text>
<text x="87.8" y="118.0" font-size="8.1" font-weight="bold" fill="#62cc40" textLength="108.1" lengthAdjust="spacingAndGlyphs" text-anchor="start" class="b">Group M: 200 points extracted</text>
<text x="108.5" y="128.5" font-size="8.1" font-weight="bold" fill="#62cc40" textLength="66.5" lengthAdjust="spacingAndGlyphs" text-anchor="start" class="b">from green regions</text>
<text x="265.7" y="20.3" font-size="10.4" font-weight="bold" fill="#000" textLength="37.7" lengthAdjust="spacingAndGlyphs" text-anchor="start" class="b">Group K</text>
<text x="293.9" y="118.1" font-size="8.1" font-weight="bold" fill="#000" textLength="125.4" lengthAdjust="spacingAndGlyphs" text-anchor="start" class="b">Group K: 200 points extracted from</text>
<text x="333.0" y="127.5" font-size="8.1" font-weight="bold" fill="#000" textLength="46.9" lengthAdjust="spacingAndGlyphs" text-anchor="start" class="b">other regions</text>
<text x="111.2" y="161.9" font-size="12.4" font-weight="bold" fill="#62cc40" textLength="51.5" lengthAdjust="spacingAndGlyphs" text-anchor="start" class="b">Group M</text>
<text x="287.8" y="161.8" font-size="12.4" font-weight="bold" fill="#000" textLength="47.5" lengthAdjust="spacingAndGlyphs" text-anchor="start" class="b">Group K</text>
<text x="199.6" y="395.9" font-size="12.4" font-weight="bold" fill="#ff0000" textLength="48.9" lengthAdjust="spacingAndGlyphs" text-anchor="start" class="b">Group N</text>
<text x="161.1" y="422.6" font-size="10.6" font-weight="bold" fill="#ff0000" textLength="39.2" lengthAdjust="spacingAndGlyphs" text-anchor="start" class="b">Group N</text>
<text x="184.8" y="519.7" font-size="8.1" font-weight="bold" fill="#ff0000" textLength="126.2" lengthAdjust="spacingAndGlyphs" text-anchor="start" class="b">Group N: 200 points extracted from</text>
<text x="222.7" y="529.4" font-size="8.1" font-weight="bold" fill="#ff0000" textLength="51.1" lengthAdjust="spacingAndGlyphs" text-anchor="start" class="b">tomato regions</text>
<polygon points="91.30,355.10 96.30,349.85 96.30,352.60 175.20,352.60 175.20,349.85 180.20,355.10 175.20,360.35 175.20,357.60 96.30,357.60 96.30,360.35" fill="#62cc40"/>
<polygon points="180.40,355.10 185.40,349.85 185.40,352.60 265.90,352.60 265.90,349.85 270.90,355.10 265.90,360.35 265.90,357.60 185.40,357.60 185.40,360.35" fill="#ff0000"/>
<polygon points="270.90,355.10 275.90,349.85 275.90,352.60 355.30,352.60 355.30,349.85 360.30,355.10 355.30,360.35 355.30,357.60 275.90,357.60 275.90,360.35" fill="#000000"/>
<text x="114.0" y="348.9" font-size="10.4" font-weight="bold" fill="#62cc40" textLength="41.7" lengthAdjust="spacingAndGlyphs" text-anchor="start" class="b">Group M</text>
<text x="204.6" y="349.3" font-size="10.4" font-weight="bold" fill="#ff0000" textLength="39.2" lengthAdjust="spacingAndGlyphs" text-anchor="start" class="b">Group N</text>
<text x="295.0" y="349.2" font-size="10.4" font-weight="bold" fill="#000" textLength="38.1" lengthAdjust="spacingAndGlyphs" text-anchor="start" class="b">Group K</text>
<line x1="93.50" y1="174.00" x2="28.65" y2="139.20" stroke="#62cc40" stroke-width="3.0"/>
<polygon points="23.80,136.60 30.74,136.35 27.43,142.52" fill="#62cc40"/>
<line x1="180.90" y1="173.50" x2="203.40" y2="141.98" stroke="#62cc40" stroke-width="3.0"/>
<polygon points="206.60,137.50 205.96,144.42 200.27,140.35" fill="#62cc40"/>
<line x1="273.50" y1="173.50" x2="241.09" y2="141.09" stroke="#000" stroke-width="3.4"/>
<polygon points="237.20,137.20 243.92,138.97 238.97,143.92" fill="#000"/>
<line x1="356.70" y1="174.50" x2="417.14" y2="139.65" stroke="#000" stroke-width="3.0"/>
<polygon points="421.90,136.90 418.45,142.93 414.95,136.87" fill="#000"/>
<line x1="180.00" y1="372.90" x2="138.26" y2="405.04" stroke="#ff0000" stroke-width="3.4"/>
<polygon points="133.90,408.40 136.52,401.97 140.79,407.51" fill="#ff0000"/>
<line x1="267.60" y1="372.90" x2="308.44" y2="404.34" stroke="#ff0000" stroke-width="3.4"/>
<polygon points="312.80,407.70 305.91,406.81 310.18,401.27" fill="#ff0000"/>
</svg>
</body></html>
